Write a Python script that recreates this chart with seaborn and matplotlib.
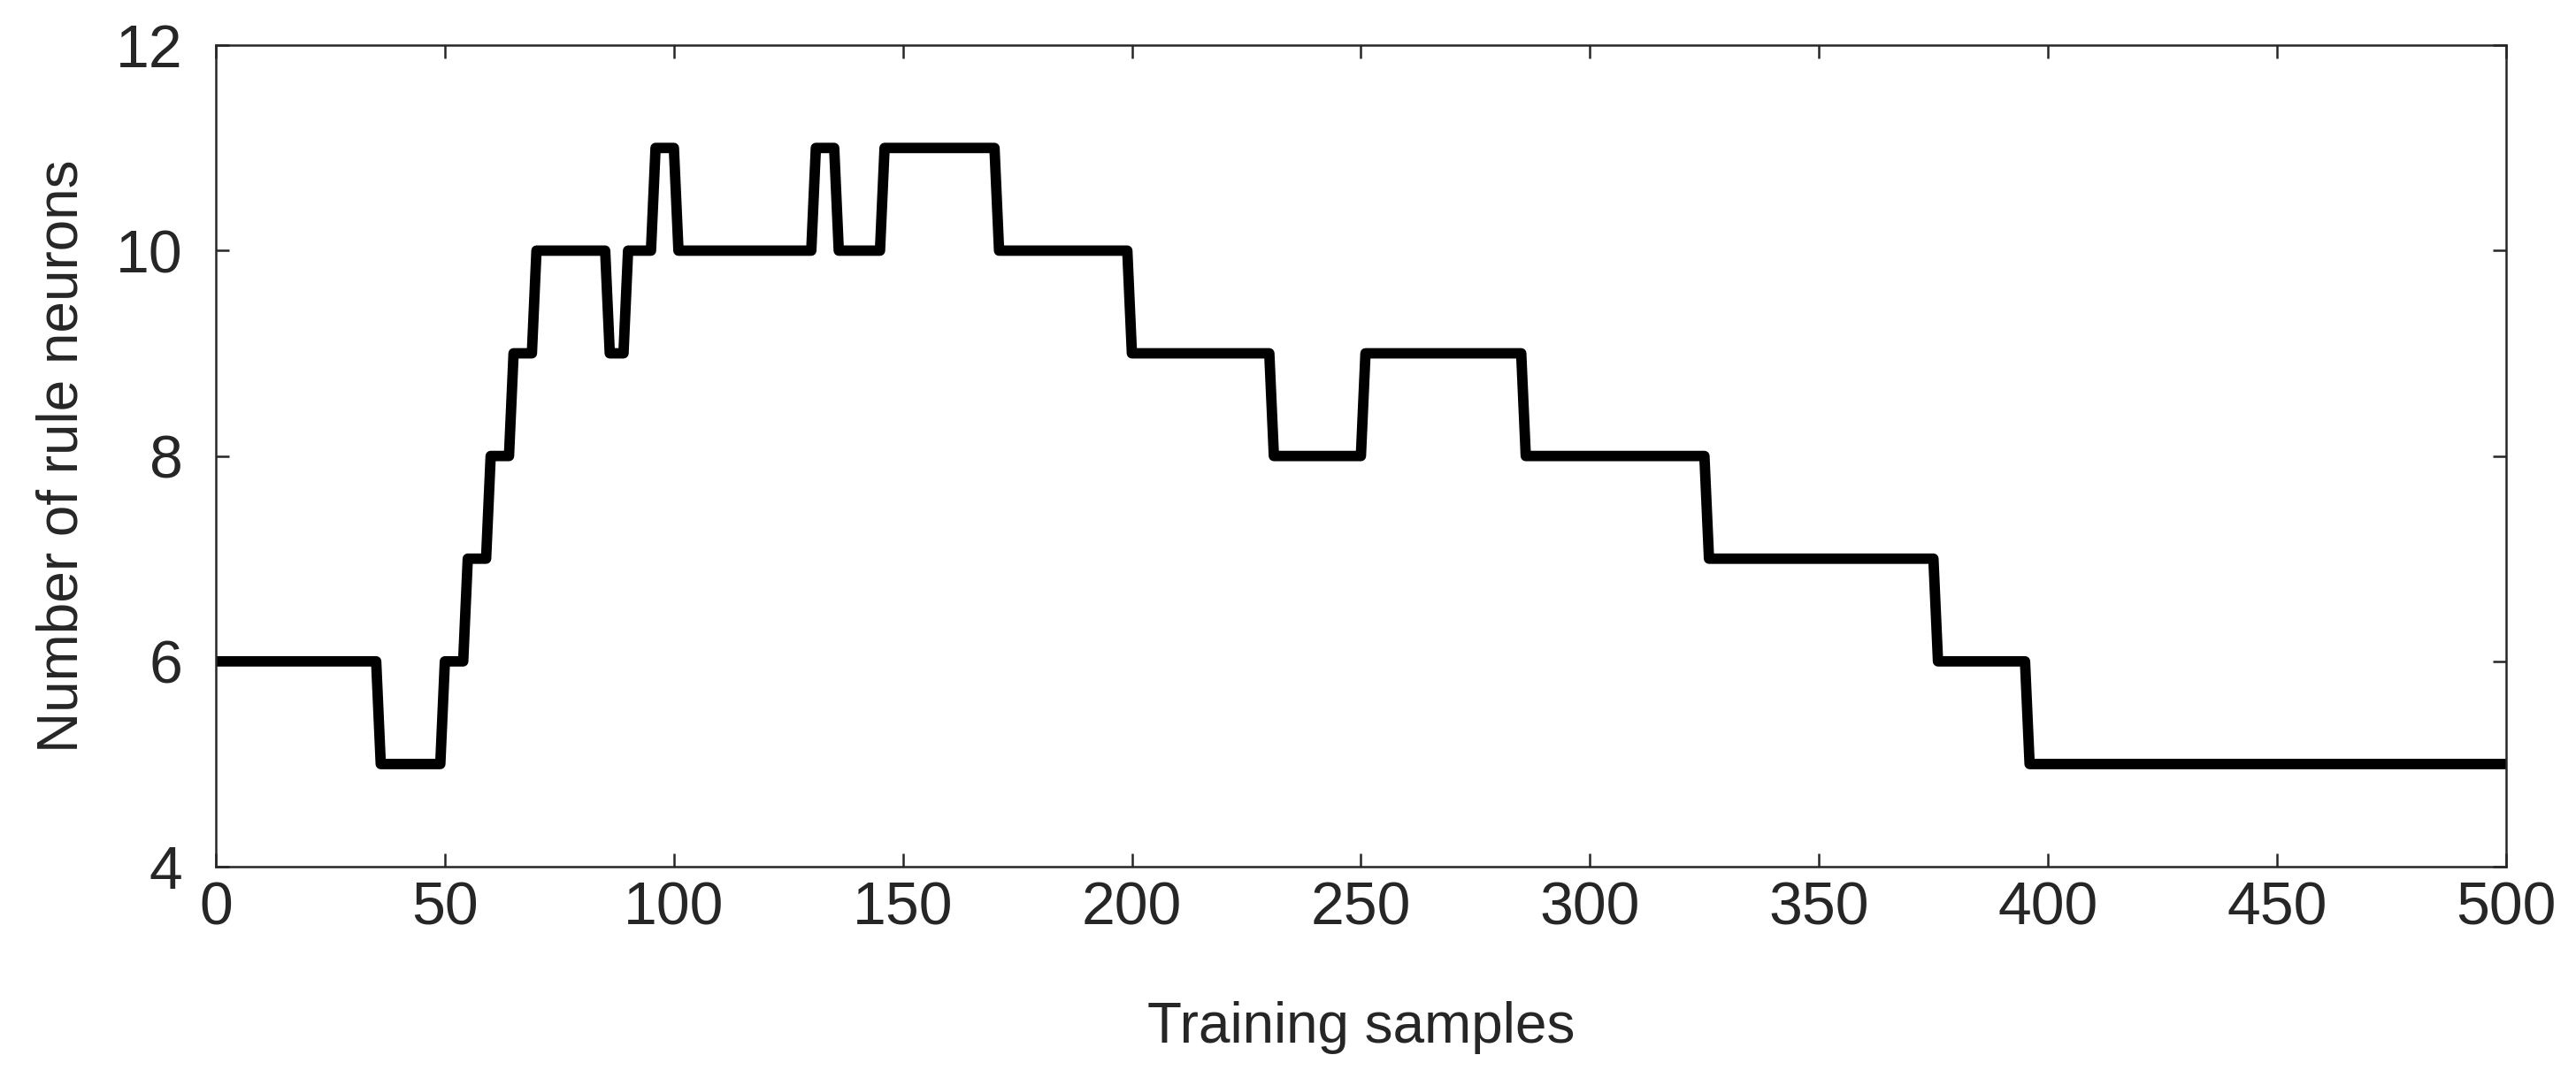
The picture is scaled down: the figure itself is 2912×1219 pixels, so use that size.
import numpy as np
import pandas as pd
import matplotlib
matplotlib.use('Agg')
import matplotlib.pyplot as plt
import seaborn as sns

# Step changes in the number of rule neurons (first sample of each level)
seg_start = [0, 36, 50, 55, 60, 65, 70, 86, 90, 96, 101, 131, 136, 146,
             171, 200, 231, 251, 286, 326, 376, 396]
levels = [6, 5, 6, 7, 8, 9, 10, 9, 10, 11, 10, 11, 10, 11,
          10, 9, 8, 9, 8, 7, 6, 5]
n_samples = 500

x_ticks = [0, 50, 100, 150, 200, 250, 300, 350, 400, 450, 500]
y_ticks = [4, 6, 8, 10, 12]

# one value per training sample
samples = np.arange(0, n_samples + 1)
idx = np.searchsorted(seg_start, samples, side='right') - 1
df = pd.DataFrame({'Training samples': samples,
                   'Rules': np.array(levels)[idx]})

sns.set_style('ticks')
plt.rcParams['font.family'] = ['Liberation Sans', 'DejaVu Sans']
text_col = '#262626'

fig = plt.figure(figsize=(29.12, 12.19), dpi=100)
ax = fig.add_axes([0.0838, 0.196, 0.8890, 0.762])

sns.lineplot(data=df, x='Training samples', y='Rules', ax=ax,
             color='black', linewidth=8.5, solid_joinstyle='round')

ax.set_xlim(0, 500)
ax.set_ylim(4, 12)
ax.set_xticks(x_ticks)
ax.set_yticks(y_ticks)
ax.tick_params(axis='both', direction='in', length=11, width=1.8,
               labelsize=49, colors=text_col, top=True, right=True)
ax.tick_params(axis='x', pad=11)
ax.tick_params(axis='y', pad=27)
for s in ax.spines.values():
    s.set_visible(True)
    s.set_linewidth(1.8)
    s.set_color(text_col)

ax.set_xlabel('Training samples', fontsize=46, color=text_col, va='center')
ax.set_ylabel('Number of rule neurons', fontsize=46, color=text_col, va='center')
ax.xaxis.set_label_coords(0.5, -0.196)
ax.yaxis.set_label_coords(-0.067, 0.5)

fig.savefig('out.png', dpi=100)
